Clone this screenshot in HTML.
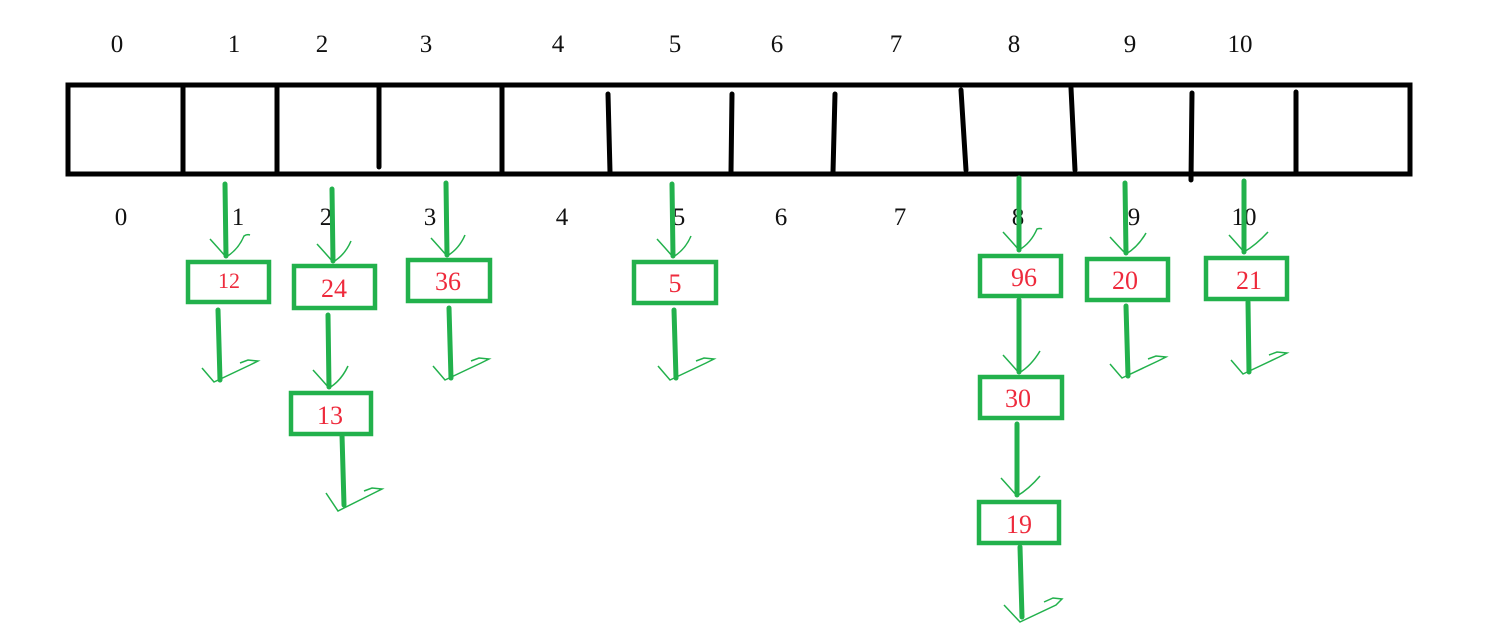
<!DOCTYPE html>
<html><head><meta charset="utf-8"><style>
html,body{margin:0;padding:0;background:#fff;}
svg{display:block}
text{font-family:"Liberation Serif",serif;}
.n{font-size:25px;fill:#111;text-anchor:middle}
.v{font-size:26px;fill:#ee2a3c;text-anchor:middle}
.bx{fill:#fff;stroke:#22b14c;stroke-width:4.5}
.sh{stroke:#22b14c;stroke-width:5;stroke-linecap:round;fill:none}
.hd{stroke:#22b14c;stroke-width:1.5;fill:none}
.dv{stroke:#000;stroke-width:5;stroke-linecap:round}
</style></head><body>
<svg width="1496" height="627" viewBox="0 0 1496 627">
<!-- top indices -->
<g class="n">
<text x="117" y="52">0</text><text x="234" y="52">1</text><text x="322" y="52">2</text><text x="426" y="52">3</text>
<text x="558" y="52">4</text><text x="675" y="52">5</text><text x="777" y="52">6</text><text x="896" y="52">7</text>
<text x="1014" y="52">8</text><text x="1130" y="52">9</text><text x="1240" y="52">10</text>
</g>
<!-- array -->
<rect x="68" y="85" width="1342" height="89" fill="none" stroke="#000" stroke-width="5"/>
<line class="dv" x1="183" y1="86" x2="183" y2="172"/>
<line class="dv" x1="277" y1="86" x2="277" y2="172"/>
<line class="dv" x1="379" y1="86" x2="379" y2="167"/>
<line class="dv" x1="502" y1="86" x2="502" y2="172"/>
<line class="dv" x1="608" y1="94" x2="610" y2="172"/>
<line class="dv" x1="732" y1="94" x2="731" y2="172"/>
<line class="dv" x1="835" y1="94" x2="833" y2="172"/>
<line class="dv" x1="961" y1="90" x2="966" y2="170"/>
<line class="dv" x1="1071" y1="88" x2="1075" y2="170"/>
<line class="dv" x1="1192" y1="93" x2="1191" y2="180"/>
<line class="dv" x1="1296" y1="92" x2="1296" y2="172"/>
<!-- bottom indices -->
<g class="n">
<text x="121" y="225">0</text><text x="238" y="225">1</text><text x="326" y="225">2</text><text x="430" y="225">3</text>
<text x="562" y="225">4</text><text x="679" y="225">5</text><text x="781" y="225">6</text><text x="900" y="225">7</text>
<text x="1018" y="225">8</text><text x="1134" y="225">9</text><text x="1244" y="225">10</text>
</g>
<!-- shafts into boxes -->
<g class="sh">
<path d="M225 184 L226 256"/><path d="M332 189 L333 261"/><path d="M446 183 L447 255"/>
<path d="M672 184 L673 256"/><path d="M1019 178 L1019 250"/><path d="M1125 183 L1126 253"/>
<path d="M1244 181 L1244 252"/>
<path d="M328 315 L329 387"/><path d="M1019 300 L1019 372"/><path d="M1017 424 L1017 495"/>
<path d="M218 310 L220 380"/><path d="M449 308 L451 378"/><path d="M674 310 L676 378"/>
<path d="M1126 306 L1128 376"/><path d="M1248 302 L1249 372"/>
<path d="M342 435 L344 505"/><path d="M1020 547 L1022 617"/>
</g>
<!-- heads into boxes -->
<g class="hd">
<path d="M210 239 Q220 250 226 257 Q238 250 244 236 Q247 234 250 235"/>
<path d="M317 244 Q327 255 333 262 Q345 255 351 241"/>
<path d="M431 238 Q441 249 447 256 Q459 249 465 235"/>
<path d="M657 239 Q667 250 673 257 Q685 250 691 236"/>
<path d="M1003 232 Q1013 243 1019 250 Q1031 243 1037 229 Q1040 228 1042 229"/>
<path d="M1110 237 Q1120 248 1126 254 Q1138 247 1146 233"/>
<path d="M1229 235 Q1239 246 1244 252 Q1256 245 1268 232"/>
<path d="M313 370 Q323 381 329 388 Q341 381 348 366"/>
<path d="M1003 355 Q1013 366 1019 373 Q1031 366 1040 351"/>
<path d="M1001 478 Q1011 489 1017 496 Q1029 489 1040 476"/>
</g>
<!-- dangling heads -->
<g class="hd">
<path d="M202 368 L214 382 L250 365 L258 361 L248 360 L240 363"/>
<path d="M433 366 L445 380 L481 363 L489 359 L479 358 L471 361"/>
<path d="M658 366 L670 380 L706 363 L714 359 L704 358 L696 361"/>
<path d="M1110 364 L1122 378 L1158 361 L1166 357 L1156 356 L1148 359"/>
<path d="M1231 360 L1243 374 L1279 357 L1287 353 L1277 352 L1269 355"/>
<path d="M326 493 L338 511 L374 493 L382 489 L372 488 L364 491"/>
<path d="M1004 605 L1020 622 L1056 605 L1062 599 L1053 598 L1044 602"/>
</g>
<!-- boxes -->
<rect class="bx" x="188" y="262" width="81" height="40"/>
<text class="v" x="229" y="288" style="font-size:22px">12</text>
<rect class="bx" x="294" y="266" width="81" height="42"/>
<text class="v" x="334" y="297">24</text>
<rect class="bx" x="408" y="260" width="82" height="41"/>
<text class="v" x="448" y="290">36</text>
<rect class="bx" x="634" y="262" width="82" height="41"/>
<text class="v" x="675" y="292">5</text>
<rect class="bx" x="980" y="256" width="81" height="40"/>
<text class="v" x="1024" y="286">96</text>
<rect class="bx" x="1087" y="259" width="81" height="41"/>
<text class="v" x="1125" y="289">20</text>
<rect class="bx" x="1206" y="258" width="81" height="41"/>
<text class="v" x="1249" y="289">21</text>
<rect class="bx" x="291" y="393" width="80" height="41"/>
<text class="v" x="330" y="424">13</text>
<rect class="bx" x="980" y="377" width="82" height="41"/>
<text class="v" x="1018" y="407">30</text>
<rect class="bx" x="979" y="502" width="80" height="41"/>
<text class="v" x="1019" y="533">19</text>
</svg>
</body></html>
